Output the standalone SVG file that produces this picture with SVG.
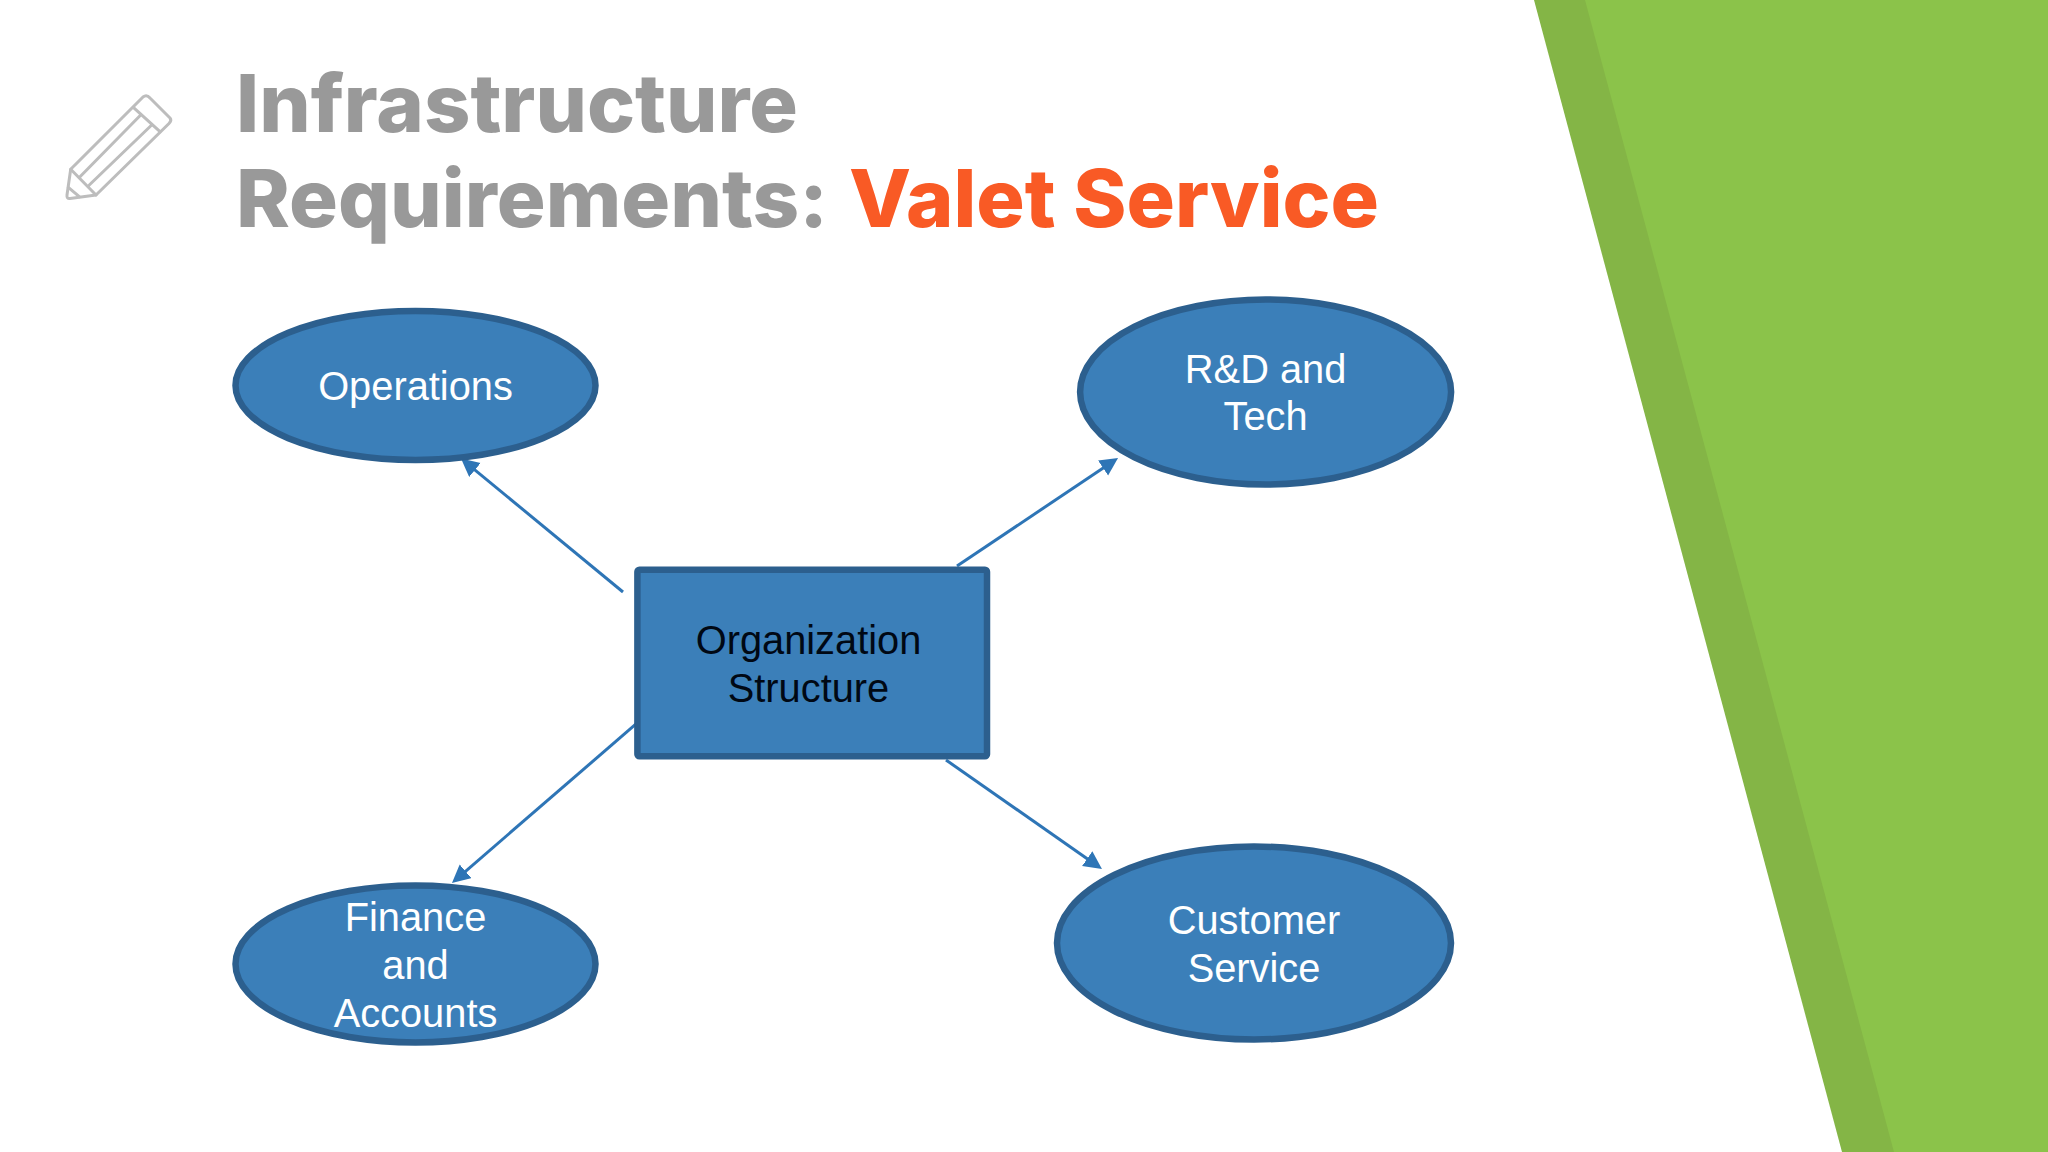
<svg xmlns="http://www.w3.org/2000/svg" width="2048" height="1152" viewBox="0 0 2048 1152">
<style>
.title{font-family:"Inter","Liberation Sans",sans-serif;font-weight:800;font-size:80px}
.node{fill:#3B7FB9;stroke:#2C5F8E;stroke-width:6.5}
.label{font-family:"Liberation Sans",Arial,sans-serif;font-size:39.8px;text-anchor:middle;fill:#fff}
.conn{stroke:#2E75B6;stroke-width:3;fill:none;marker-end:url(#arrow)}
.pencil{fill:none;stroke:#BDBDBD;stroke-width:3;stroke-linejoin:round;stroke-linecap:round}
</style>
<defs>
<marker id="arrow" markerUnits="userSpaceOnUse" markerWidth="22" markerHeight="20" refX="10" refY="9" orient="auto"><path d="M0,0 L18,9 L0,18 Z" fill="#2E75B6"/></marker>
</defs>
<rect width="2048" height="1152" fill="#fff"/>
<g id="background-shapes">
<polygon points="1534,0 2048,0 2048,1152 1842,1152" fill="#84B546"/>
<polygon points="1585,0 2048,0 2048,1152 1894,1152" fill="#8BC34A"/>
</g>
<g id="pencil-icon" class="pencil">
<path d="M70.7,169.3 L143,97 Q146.7,94 150,98 L170,118 Q172,120.5 169,123.5 L96,195 L70,198.5 Q66.5,199 67,195 Z"/>
<path d="M133.3,107.3 L160,131.7 M140.7,115 L80,176.7 M151.7,125 L89.3,185 M70.7,169.3 L96,195 M68.3,187.3 L79.3,196.7"/>
</g>
<g id="title">
<text class="title" x="236" y="132" fill="#999999" textLength="562" lengthAdjust="spacingAndGlyphs">Infrastructure</text>
<text class="title" x="236" y="227" fill="#999999" textLength="592" lengthAdjust="spacingAndGlyphs">Requirements:</text>
<text class="title" x="849" y="227" fill="#F95A25" textLength="530" lengthAdjust="spacingAndGlyphs">Valet Service</text>
</g>
<g id="connectors">
<line class="conn" x1="623" y1="592" x2="467.2" y2="463.6"/>
<line class="conn" x1="957" y1="566" x2="1111.4" y2="462.5"/>
<line class="conn" x1="946" y1="760" x2="1095.4" y2="864.4"/>
<line class="conn" x1="637.5" y1="722.7" x2="458" y2="877.8"/>
</g>
<g id="node-operations">
<ellipse class="node" cx="415.5" cy="385.5" rx="180" ry="74.5"/>
<text class="label" x="415.5" y="400">Operations</text>
</g>
<g id="node-rd-tech">
<ellipse class="node" cx="1265.6" cy="392" rx="185.5" ry="92.5"/>
<text class="label" x="1265.6" y="383">R&amp;D and</text>
<text class="label" x="1265.6" y="430">Tech</text>
</g>
<g id="node-organization">
<rect class="node" x="637.4" y="569.8" width="349.6" height="186.4" rx="2"/>
<text class="label" style="fill:#000814" x="808.5" y="654">Organization</text>
<text class="label" style="fill:#000814" x="808.5" y="701.7">Structure</text>
</g>
<g id="node-finance">
<ellipse class="node" cx="415.5" cy="964" rx="180" ry="78.5"/>
<text class="label" x="415.5" y="931">Finance</text>
<text class="label" x="415.5" y="979">and</text>
<text class="label" x="415.5" y="1027">Accounts</text>
</g>
<g id="node-customer">
<ellipse class="node" cx="1254" cy="943" rx="197" ry="96.5"/>
<text class="label" x="1254" y="934">Customer</text>
<text class="label" x="1254" y="982">Service</text>
</g>
</svg>
